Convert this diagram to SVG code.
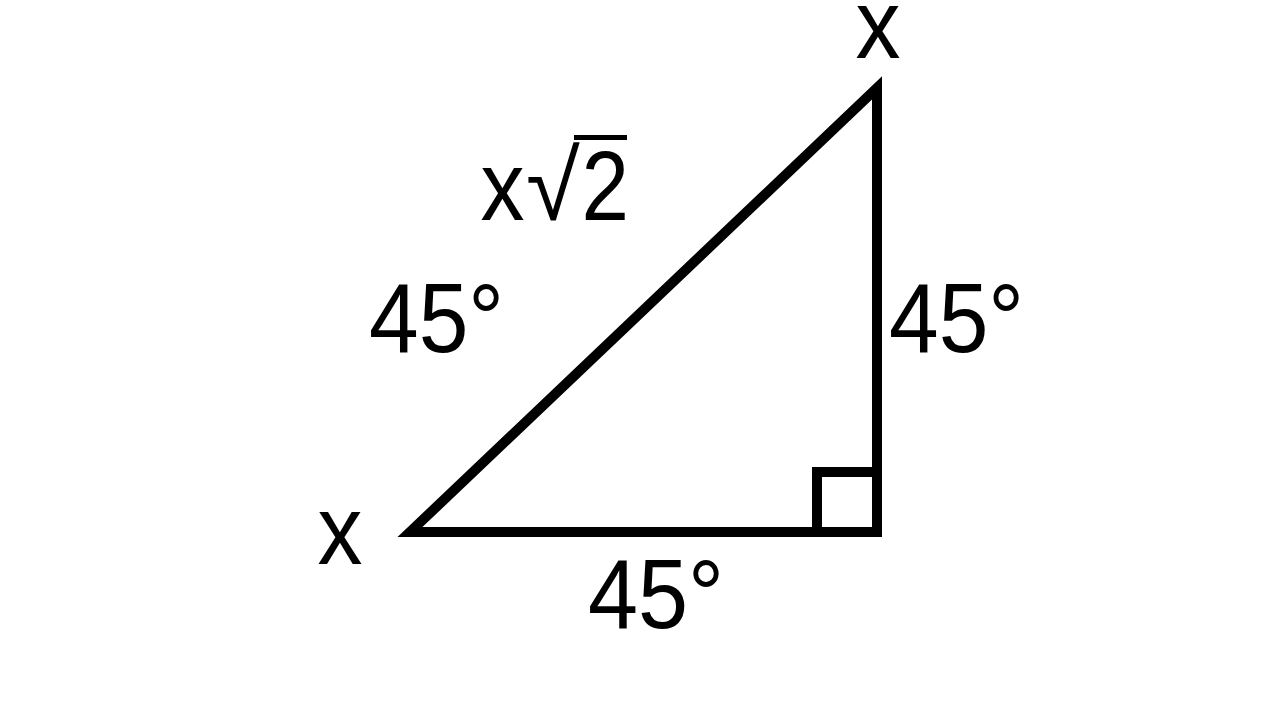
<svg xmlns="http://www.w3.org/2000/svg" width="1280" height="720" viewBox="0 0 1280 720">
  <style>
    .lbl { font-family: "Liberation Sans", Arial, sans-serif; font-size: 98px; fill: #000; }
    .edge { fill: none; stroke: #000; stroke-width: 10; stroke-linejoin: miter; stroke-miterlimit: 10; }
  </style>
  <rect x="0" y="0" width="1280" height="720" fill="#fff"/>
  <g id="connectors">
    <polygon id="triangle" class="edge" points="410,532 877,532 877,88"/>
    <polyline id="right-angle" class="edge" points="817,532 817,472 877,472"/>
  </g>
  <g id="vertex-top">
    <text class="lbl" x="855.5" y="58" textLength="45" lengthAdjust="spacingAndGlyphs">x</text>
  </g>
  <g id="vertex-left">
    <text class="lbl" x="317.5" y="564" textLength="45" lengthAdjust="spacingAndGlyphs">x</text>
  </g>
  <g id="hypotenuse-label">
    <text class="lbl" x="480.5" y="220" textLength="44" lengthAdjust="spacingAndGlyphs">x</text>
    <text class="lbl" x="526" y="220" font-size="98">√</text>
    <line x1="574" y1="137.5" x2="627" y2="137.5" stroke="#000" stroke-width="5"/>
    <text class="lbl" x="581.5" y="220" textLength="47.5" lengthAdjust="spacingAndGlyphs">2</text>
  </g>
  <g id="angle-left">
    <text class="lbl" x="369" y="352" textLength="135" lengthAdjust="spacingAndGlyphs">45°</text>
  </g>
  <g id="angle-right">
    <text class="lbl" x="889" y="352" textLength="135" lengthAdjust="spacingAndGlyphs">45°</text>
  </g>
  <g id="angle-bottom">
    <text class="lbl" x="588" y="628" textLength="136" lengthAdjust="spacingAndGlyphs">45°</text>
  </g>
</svg>
